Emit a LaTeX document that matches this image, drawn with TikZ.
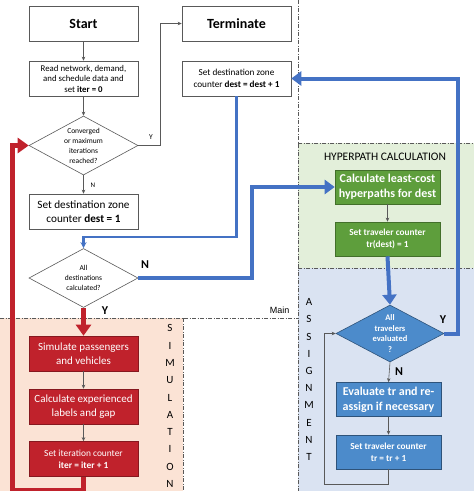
\documentclass[tikz,border=0pt]{standalone}
\usepackage{fontspec}
\setmainfont{Carlito}
\newfontfamily\arialfont{Liberation Sans}
\usetikzlibrary{shapes.geometric,arrows.meta}

\definecolor{simbg}{HTML}{FBE3D5}
\definecolor{hypbg}{HTML}{E3EFDA}
\definecolor{asgbg}{HTML}{DAE3F2}
\definecolor{simred}{HTML}{C0222C}
\definecolor{hypgreen}{HTML}{5E9E3C}
\definecolor{asgblue}{HTML}{4C8BCB}
\definecolor{flowblue}{HTML}{4472C4}
\definecolor{linegray}{HTML}{595959}

\begin{document}
\begin{tikzpicture}[x=1pt,y=-1pt,
    divider/.style={draw=linegray,line width=0.6pt,dash pattern=on 4pt off 1.5pt on 1pt off 1.5pt},
    box/.style={rectangle,draw=linegray,line width=0.6pt,minimum width=109pt,minimum height=35pt,align=center,inner sep=1pt,font=\fontsize{8.8}{10.5}\selectfont},
    simbox/.style={box,fill=simred,draw=simred!70!black,text=white,font=\fontsize{11}{13.5}\selectfont},
    hypbox/.style={box,minimum width=105pt,minimum height=34pt,fill=hypgreen,draw=hypgreen!70!black,text=white,font=\bfseries\fontsize{9.3}{12}\selectfont},
    asgbox/.style={box,minimum width=105pt,minimum height=34pt,fill=asgblue,draw=asgblue!60!black,text=white,font=\bfseries\fontsize{9.3}{12}\selectfont},
    decision/.style={diamond,draw=linegray,line width=0.6pt,minimum width=109pt,minimum height=59pt,inner sep=0pt},
    dtext/.style={align=center,font=\fontsize{7.5}{10}\selectfont,inner sep=0pt},
    flow/.style={draw=linegray,line width=0.6pt,-{Stealth[length=4pt,width=3.5pt]}},
    bigblue/.style={draw=flowblue,line width=4pt,-{Triangle[length=10pt,width=14pt]}},
    bigred/.style={draw=simred,line width=4.5pt,-{Triangle[length=11pt,width=15pt]}},
    yn/.style={font=\bfseries\fontsize{12}{14}\selectfont,inner sep=0pt},
    letter/.style={font=\fontsize{11}{12}\selectfont,inner sep=0pt}
  ]

  \useasboundingbox (0,0) rectangle (474,491);

  % regions
  \fill[simbg] (0,318) rectangle (183,491);
  \fill[hypbg] (298,143) rectangle (474,268);
  \fill[asgbg] (298,268) rectangle (474,491);
  \draw[divider] (298,0) -- (298,491);
  \draw[divider] (0,318) -- (298,318);
  \draw[divider] (183,318) -- (183,491);
  \draw[divider] (298,143) -- (474,143);
  \draw[divider] (298,268) -- (474,268);

  \node[font=\arialfont\fontsize{9}{11}\selectfont,anchor=east] (main) at (293,310) {Main};
  \node[font=\fontsize{11.5}{13}\selectfont] (hyptitle) at (385,157) {HYPERPATH CALCULATION};
  \foreach \l [count=\i] in {S,I,M,U,L,A,T,I,O,N}
    \node[letter] (simletter\i) at (170,311+17.3*\i) {\l};
  \foreach \l [count=\i] in {A,S,S,I,G,N,M,E,N,T}
    \node[letter] (asgletter\i) at (309,285+17.2*\i) {\l};

  % main loop
  \begin{scope}
    \node[box,font=\bfseries\fontsize{14}{16}\selectfont] (start) at (83.5,23.5) {Start};
    \node[box] (read) at (83.5,78.5) {Read network, demand,\\and schedule data and\\set \textbf{iter = 0}};
    \node[decision] (conv) at (83.5,145.5) {};
    \node[dtext] (convtext) at (conv) {Converged\\or maximum\\iterations\\reached?};
    \node[box,font=\bfseries\fontsize{14}{16}\selectfont] (term) at (236.5,23.5) {Terminate};
    \node[box,font=\fontsize{9.2}{12}\selectfont] (destinc) at (236.5,78.5) {Set destination zone\\counter \textbf{dest = dest + 1}};
    \node[box,font=\fontsize{11.2}{14}\selectfont] (destone) at (83.5,211.5) {Set destination zone\\counter \textbf{dest = 1}};
    \node[decision] (alldest) at (83.5,278) {};
    \node[dtext] (alldesttext) at (alldest) {All\\destinations\\calculated?};
  \end{scope}

  % simulation
  \node[simbox] (sim1) at (83.5,353.5) {Simulate passengers\\and vehicles};
  \node[simbox] (sim2) at (83.5,406.5) {Calculate experienced\\labels and gap};
  \node[simbox,font=\fontsize{9.4}{12}\selectfont] (sim3) at (83.5,459) {Set iteration counter\\\textbf{iter = iter + 1}};

  % hyperpath calculation
  \node[hypbox,font=\bfseries\fontsize{12}{15}\selectfont] (hyp1) at (387.5,187) {Calculate least-cost\\hyperpaths for dest};
  \node[hypbox] (hyp2) at (387.5,239) {Set traveler counter\\tr(dest) = 1};

  % assignment
  \node[decision,fill=asgblue,draw=asgblue!60!black,minimum width=108pt,minimum height=57pt] (alltr) at (390,333.5) {};
  \node[dtext,text=white,font=\bfseries\fontsize{8.5}{10.5}\selectfont] (alltrtext) at (alltr) {All\\travelers\\evaluated\\?};
  \node[asgbox,font=\bfseries\fontsize{12}{15}\selectfont] (eval) at (388.5,399.5) {Evaluate tr and re-\\assign if necessary};
  \node[asgbox] (trinc) at (388.5,452) {Set traveler counter\\tr = tr + 1};

  % connectors
  \draw[flow] (start) -- (read);
  \draw[flow] (read) -- (conv);
  \draw[flow] (conv.east) -- ++(22,0) |- (term.west);
  \node[font=\fontsize{7.5}{9}\selectfont] (convy) at (151,137) {Y};
  \draw[flow] (conv.south) -- (destone.north);
  \node[font=\fontsize{7}{9}\selectfont] (convn) at (93,185) {N};
  \draw[draw=flowblue,line width=2.2pt,-{Stealth[length=6pt,width=6pt]}] (destinc.south) -- ++(0,141) -| (alldest.north);
  \draw[bigblue] (alldest.east) -- ++(114,0) |- (hyp1.west);
  \node[yn] (alldestn) at (145,265) {N};
  \draw[bigred] (alldest.south) -- (sim1.north);
  \node[yn] (alldesty) at (105,311) {Y};
  \draw[flow] (sim1) -- (sim2);
  \draw[flow] (sim2) -- (sim3);
  \draw[bigred] (sim3.south) -- ++(0,13) -- ++(-71,0) |- (conv.west);
  \draw[flow] (hyp1) -- (hyp2);
  \draw[bigblue] (hyp2.south) -- (alltr.north);
  \draw[bigblue] (alltr.east) -- ++(14,0) |- (destinc.east);
  \node[yn] (alltry) at (443,320) {Y};
  \draw[flow] (alltr.south) -- (eval.north);
  \node[yn] (alltrn) at (399,372) {N};
  \draw[flow] (eval) -- (trinc);
  \draw[flow] (trinc.south) -- ++(0,15) -- ++(-64,0) |- (alltr.west);

\end{tikzpicture}
\end{document}
